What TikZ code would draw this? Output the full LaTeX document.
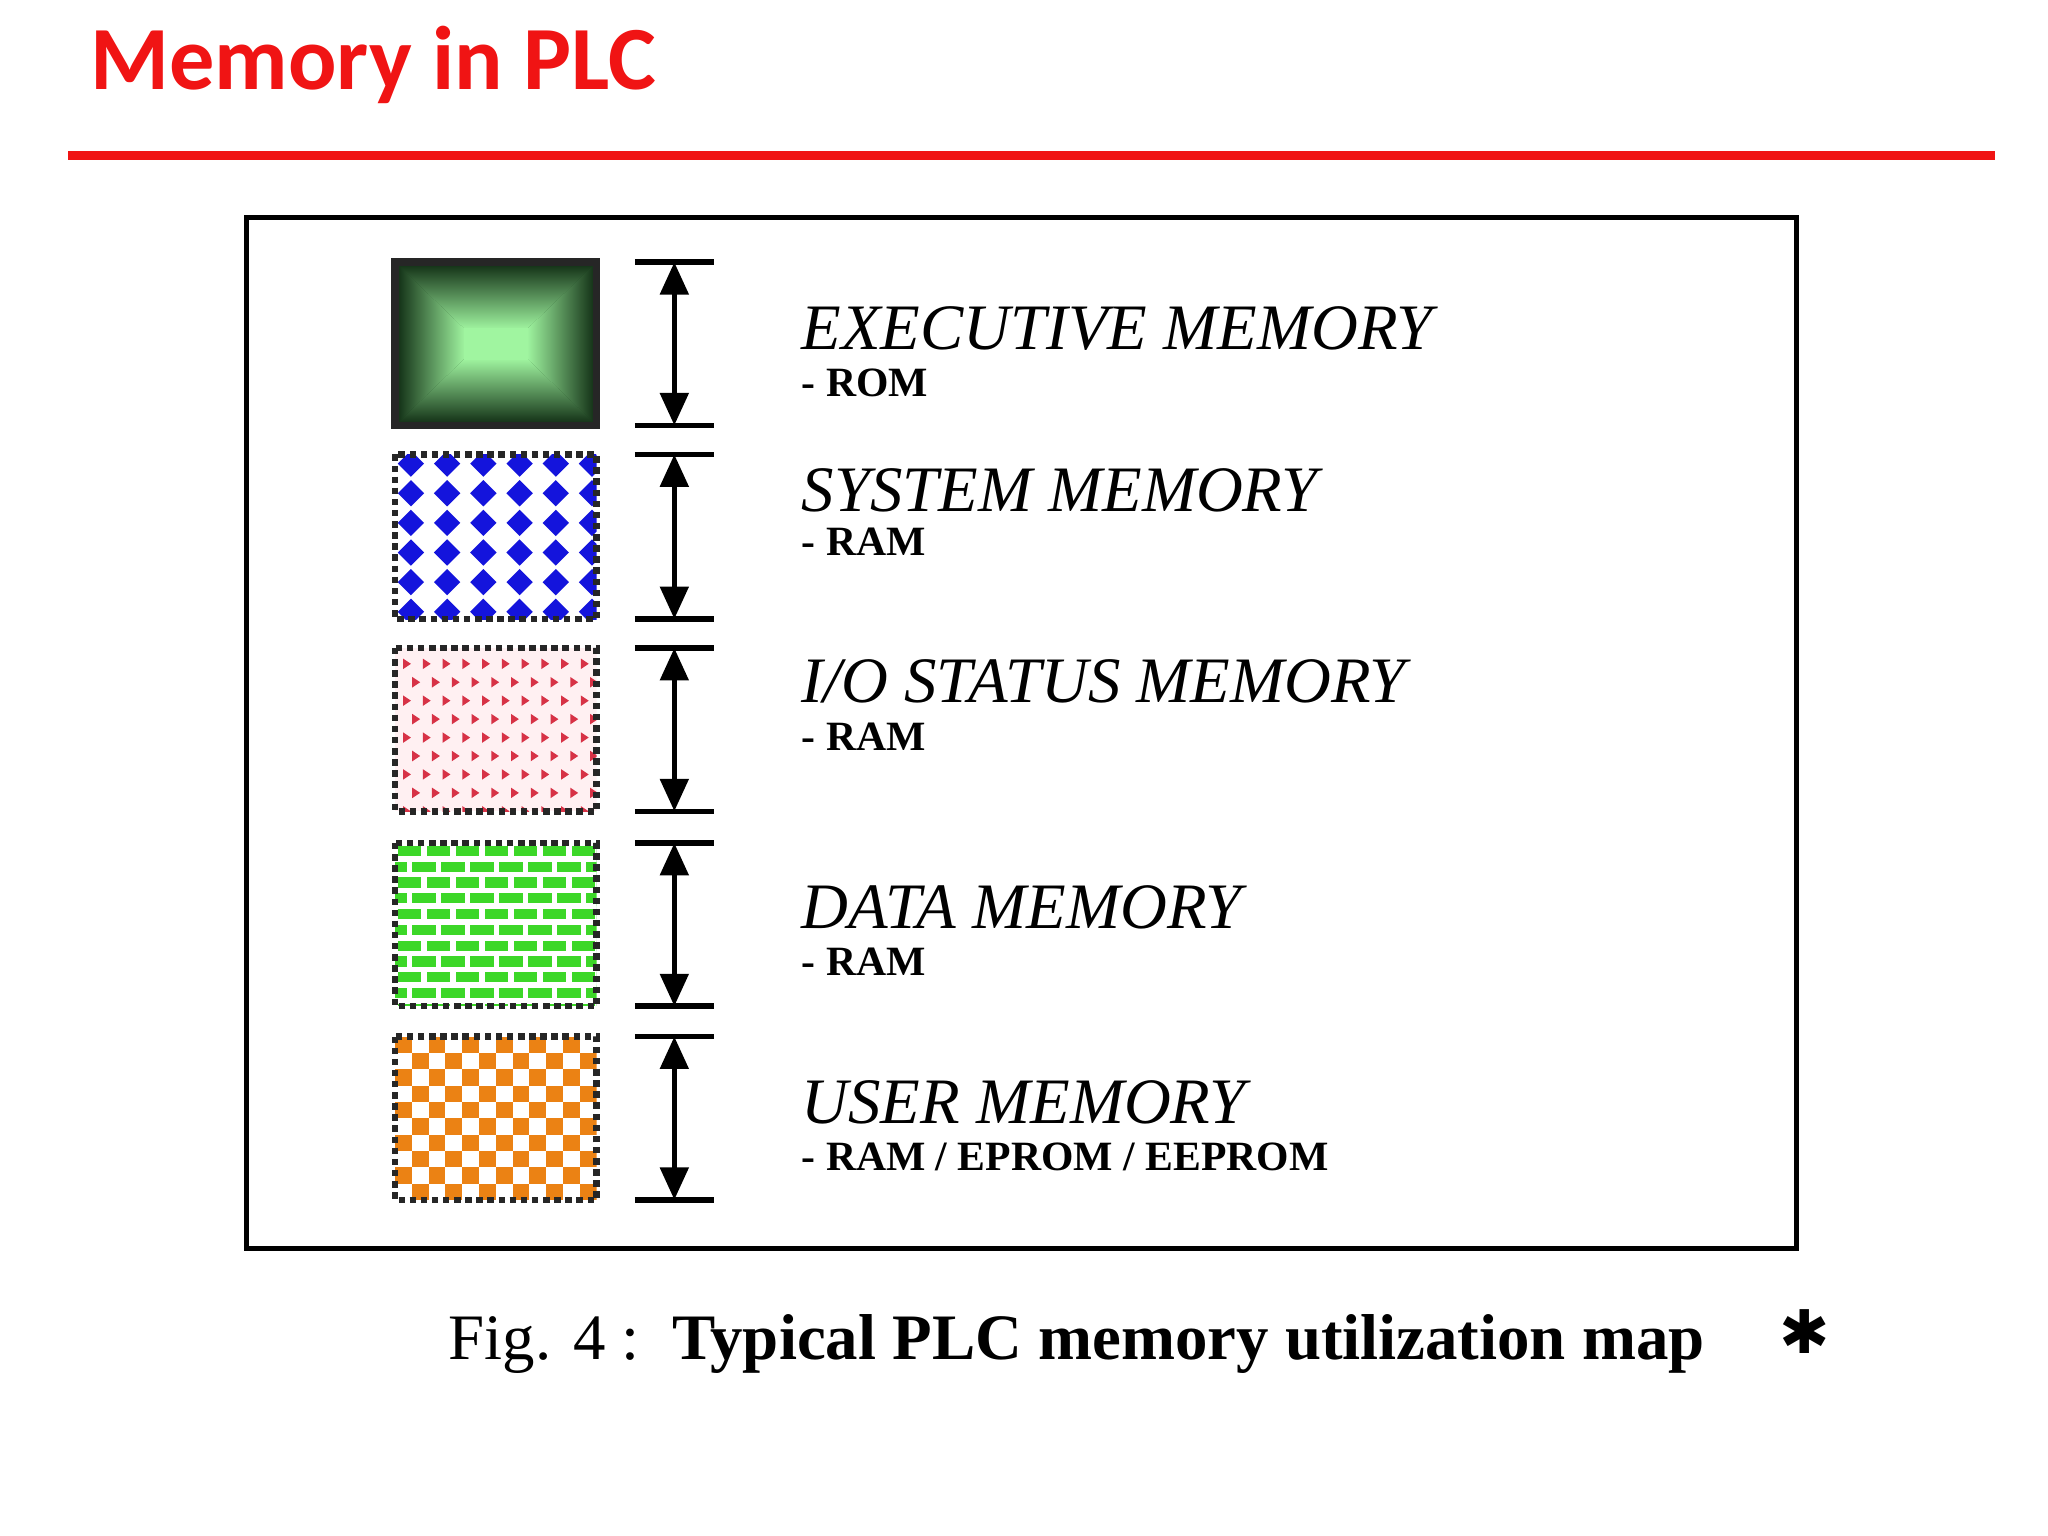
\documentclass[tikz,border=0pt]{standalone}
\usepackage{fontspec}
\setmainfont{Liberation Serif}
\newfontfamily\titlefont{Carlito}
\newfontfamily\symfont{DejaVu Sans}
\usetikzlibrary{arrows.meta}
\definecolor{titlered}{RGB}{240,20,20}
\definecolor{dkgreen}{RGB}{20,60,25}
\definecolor{ltgreen}{RGB}{160,245,160}
\definecolor{dblue}{RGB}{20,20,220}
\definecolor{bgreen}{RGB}{60,215,40}
\definecolor{uorange}{RGB}{235,130,20}
\definecolor{iored}{RGB}{215,50,70}
\definecolor{iopink}{RGB}{255,240,242}
\tikzset{
  membox/.style={draw=black!85, line width=1.4pt, densely dotted},
  dimarrow/.style={{Triangle[length=7pt,width=6pt]}-{Triangle[length=7pt,width=6pt]}, line width=1.2pt},
  tick/.style={line width=1.2pt},
  memtitle/.style={anchor=base west, inner sep=0, font=\fontsize{14}{17}\selectfont\itshape},
  memsub/.style={anchor=base west, inner sep=0, font=\fontsize{9}{11}\selectfont\bfseries},
}
\begin{document}
\begin{tikzpicture}[x=0.01cm,y=-0.01cm]
\useasboundingbox (0,0) rectangle (1555,1166);
\node[anchor=base west, inner sep=0, text=titlered, font=\titlefont\bfseries\fontsize{19.5}{22}\selectfont] (title) at (68,68) {Memory in PLC};
\draw[titlered, line width=2.1pt] (52,118) coordinate (r1) -- (1515,118) coordinate (r2);
\draw[line width=1.2pt] (187,165) rectangle (1364,948);

% Executive
\begin{scope}
\fill[dkgreen] (300,199) rectangle (453,323);
\shade[top color=dkgreen!70!black, bottom color=ltgreen] (300,199) -- (453,199) -- (400,250) -- (353,250) -- cycle;
\shade[bottom color=dkgreen!70!black, top color=ltgreen] (300,323) -- (453,323) -- (400,272) -- (353,272) -- cycle;
\shade[left color=dkgreen!70!black, right color=ltgreen] (300,199) -- (353,250) -- (353,272) -- (300,323) -- cycle;
\shade[right color=dkgreen!70!black, left color=ltgreen] (453,199) -- (400,250) -- (400,272) -- (453,323) -- cycle;
\fill[ltgreen] (352,249) rectangle (401,273);
\end{scope}
\draw[line width=1.6pt, black!85] (300,199) rectangle (453,323);

% System
\begin{scope}
\clip (300,345) rectangle (453,470);
\fill[white] (300,345) rectangle (453,470);
\foreach \i in {0,...,5}{\foreach \j in {0,...,5}{
  \fill[dblue] ({312+\i*27.5},{352+\j*22.5}) ++(0,-10) -- ++(10,10) -- ++(-10,10) -- ++(-10,-10) -- cycle;
}}
\end{scope}
\draw[membox] (300,345) rectangle (453,470);

% I/O
\begin{scope}
\clip (300,492) rectangle (453,616);
\fill[iopink] (300,492) rectangle (453,616);
\foreach \i in {0,...,10}{\foreach \j in {0,...,8}{
  \pgfmathsetmacro{\xx}{306+\i*15+mod(\j,2)*7}
  \fill[iored] (\xx,{500+\j*14}) -- ++(6,4) -- ++(-6,4) -- cycle;
}}
\end{scope}
\draw[membox] (300,492) rectangle (453,616);

% Data
\begin{scope}
\clip (300,640) rectangle (453,764);
\fill[bgreen] (300,640) rectangle (453,764);
\foreach \j in {0,...,10}{
  \draw[white, line width=1.2pt] (300,{640+\j*12}) -- (453,{640+\j*12});
  \foreach \i in {0,...,7}{
    \pgfmathsetmacro{\xx}{300+\i*22+mod(\j,2)*11}
    \draw[white, line width=1.2pt] (\xx,{640+\j*12}) -- (\xx,{652+\j*12});
  }
}
\end{scope}
\draw[membox] (300,640) rectangle (453,764);

% User
\begin{scope}
\clip (300,787) rectangle (453,911);
\fill[white] (300,787) rectangle (453,911);
\foreach \i in {0,...,12}{\foreach \j in {0,...,10}{
  \pgfmathparse{int(mod(\i+\j,2))}
  \ifnum\pgfmathresult=0
    \fill[uorange] ({300+\i*12.75},{787+\j*12.4}) rectangle ++(12.75,12.4);
  \fi
}}
\end{scope}
\draw[membox] (300,787) rectangle (453,911);

% arrows
\foreach \t/\b [count=\k] in {199/323,345/470,492/616,640/764,787/911}{
  \coordinate (t\k) at (512,\t);
  \coordinate (b\k) at (512,\b);
  \draw[tick] (482,\t) -- (542,\t);
  \draw[tick] (482,\b) -- (542,\b);
  \draw[dimarrow] (t\k) -- (b\k);
}

\node[memtitle] (l1) at (608,265) {EXECUTIVE MEMORY};
\node[memsub] (s1) at (608,301) {- ROM};
\node[memtitle] (l2) at (608,388) {SYSTEM MEMORY};
\node[memsub] (s2) at (608,422) {- RAM};
\node[memtitle] (l3) at (608,533) {I/O STATUS MEMORY};
\node[memsub] (s3) at (608,570) {- RAM};
\node[memtitle] (l4) at (608,705) {DATA MEMORY};
\node[memsub] (s4) at (608,741) {- RAM};
\node[memtitle] (l5) at (608,853) {USER MEMORY};
\node[memsub] (s5) at (608,889) {- RAM / EPROM / EEPROM};

\node[anchor=base west, inner sep=0, font=\fontsize{14}{17}\selectfont] (cap) at (340,1032) {Fig. 4 :\ \ \textbf{Typical PLC memory utilization map}};
\node[anchor=base, inner sep=0, font=\symfont\fontsize{13}{15}\selectfont] (star) at (1370,1028) {✱};
\end{tikzpicture}
\end{document}
